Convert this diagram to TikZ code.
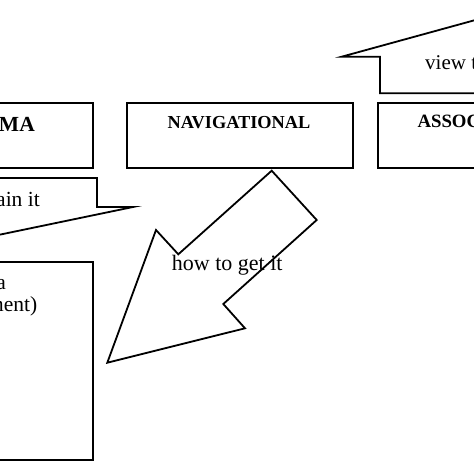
\documentclass[tikz,border=0pt]{standalone}
\usepackage{fontspec}
\setmainfont{Liberation Serif}
\begin{document}
\begin{tikzpicture}[x=1pt,y=-1pt,
  shape line/.style={draw=black,line width=1.8pt,line join=miter},
  boxnode/.style={draw=black,line width=1.8pt,minimum width=226pt,minimum height=65pt,inner sep=0pt,outer sep=0pt},
  titletext/.style={font=\bfseries,inner sep=0pt},
  bodytext/.style={inner sep=0pt}]
\useasboundingbox (0,0) rectangle (474,474);
\fill[white] (0,0) rectangle (474,474);
\clip (0,0) rectangle (474,474);
% boxes
\node[boxnode] (schema) at (-20,135.5) {};
\node[boxnode] (nav) at (239.7,135.5) {};
\node[boxnode] (assoc) at (491,135.5) {};
\node[boxnode,minimum height=198pt] (data) at (-20,361) {};
% titles
\node[titletext,font=\fontsize{21.5}{24}\selectfont\bfseries,anchor=base east] (tma) at (35,131.7) {MA};
\node[titletext,font=\fontsize{18.3}{21}\selectfont\bfseries,anchor=base] (tnav) at (239,128.3) {NAVIGATIONAL};
\node[titletext,font=\fontsize{18.8}{22}\selectfont\bfseries,anchor=base west] (tassoc) at (417.3,127.7) {ASSOC};
% callout lower left
\draw[shape line] (-10,178) -- (97,178) -- (97,207) -- (133,207) -- (-10,236.7);
\node[bodytext,font=\fontsize{21.5}{24}\selectfont,anchor=base east] (tain) at (40,206.7) {ain it};
% callout upper right
\draw[shape line] (490,16) -- (341.7,56.7) -- (380,56.7) -- (380,93.3) -- (490,93.3);
\node[bodytext,font=\fontsize{21}{24}\selectfont,anchor=base west] (tview) at (425,69.3) {view t};
% data box text
\node[bodytext,font=\fontsize{21.5}{24}\selectfont,anchor=base east] (ta) at (6,289) {a};
\node[bodytext,font=\fontsize{21.5}{24}\selectfont,anchor=base east] (tment) at (37.5,311.7) {ment)};
% big arrow
\draw[shape line] (271.7,170.7) -- (316.7,220) -- (223.3,304) -- (245,328.3) -- (107.3,362.7) -- (156,230) -- (178.3,254.3) -- cycle;
\node[bodytext,font=\fontsize{22}{26}\selectfont,anchor=base west] (thow) at (171.7,270) {how to get it};
\end{tikzpicture}
\end{document}
